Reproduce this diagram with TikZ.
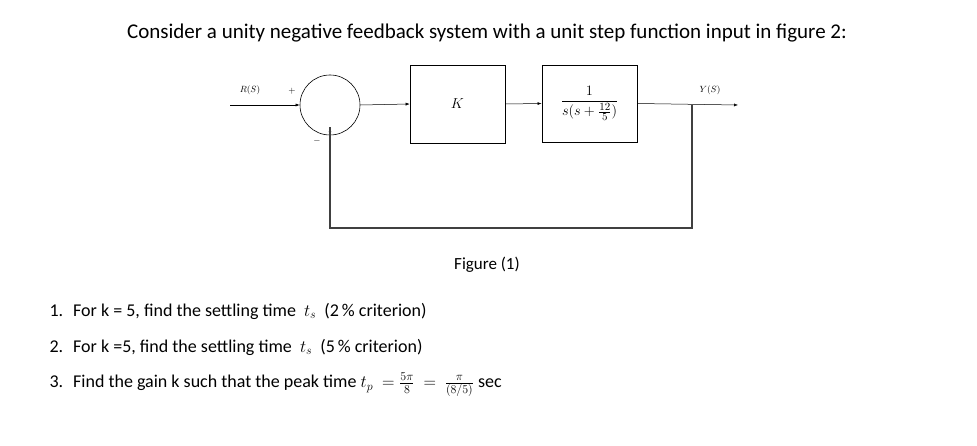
\documentclass[tikz,border=0pt]{standalone}
\usepackage{fontspec}
\setmainfont{Carlito}
\usetikzlibrary{arrows.meta}
\begin{document}
\begin{tikzpicture}[x=1pt,y=-1pt,
  blk/.style={draw,line width=0.6pt,inner sep=0pt},
  sig/.style={line width=0.5pt,-{Latex[length=4pt,width=3pt]}},
  lbl/.style={font=\fontsize{9}{10}\selectfont}]
\useasboundingbox (0,0) rectangle (977,446);
\node (title) at (487,33) {\fontsize{21}{24}\selectfont Consider a unity negative feedback system with a unit step function input in figure 2:};
\node[blk,circle,minimum size=60pt] (sum) at (330,105) {};
\node[blk,minimum width=95pt,minimum height=78pt] (K) at (457.5,104) {\fontsize{15}{16}\selectfont $K$};
\node[blk,line width=0.9pt,minimum width=95pt,minimum height=77pt] (G) at (589.5,103.5) {\fontsize{15}{17}\selectfont $\displaystyle\frac{1}{s(s+\frac{12}{5})}$};
\coordinate (in) at (230,105);
\coordinate (out) at (738,105);
\coordinate (tk) at (692,105);
\coordinate (bl) at (330,228);
\coordinate (br) at (692,228);
\draw[sig] (in) -- (sum.west);
\draw[sig] (sum.east) -- (K.west);
\draw[sig] (K.east) -- (G.west);
\draw[sig] (G.east) -- (out);
\draw[line width=1.2pt,draw=black!75] (tk) -- (br) -- (bl) -- ([yshift=8pt]sum.south);
\draw[sig,line width=1.2pt,draw=black!75] ([yshift=8pt]sum.south) -- (sum.south);
\node[lbl] (r) at (250,90) {$R(S)$};
\node[lbl] (p) at (292,91) {$+$};
\node[lbl] (m) at (317,141) {$-$};
\node[lbl] (y) at (710,90) {$Y(S)$};
\node (fig) at (487,265) {\fontsize{17}{20}\selectfont Figure (1)};
\begin{scope}[every node/.style={anchor=west,font=\fontsize{18}{21}\selectfont}]
\node (l1) at (46,311) {1.\hspace{10pt}For k = 5, find the settling time\ \ $t_s$\ \ (2\,\% criterion)};
\node (l2) at (46,347) {2.\hspace{10pt}For k =5, find the settling time\ \ $t_s$\ \ (5\,\% criterion)};
\node (l3) at (46,385) {3.\hspace{10pt}Find the gain k such that the peak time $t_p\ =\frac{5\pi}{8}\ =\ \frac{\pi}{(8/5)}$\ sec};
\end{scope}
\end{tikzpicture}
\end{document}
